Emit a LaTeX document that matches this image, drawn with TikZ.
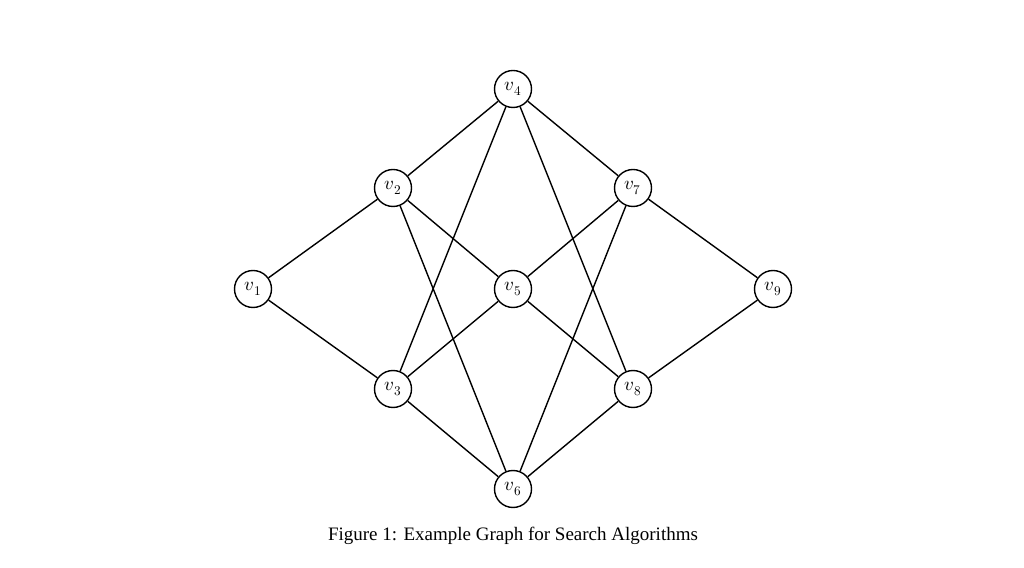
\documentclass[tikz,border=0pt]{standalone}
\usepackage{fontspec}
\setmainfont{Liberation Serif}
\usepackage{unicode-math}
\setmathfont{Latin Modern Math}
\begin{document}
\begin{tikzpicture}[x=1pt,y=1pt,
  vert/.style={circle,draw,line width=1.4pt,minimum size=37pt,inner sep=0pt,fill=white,font=\fontsize{19}{22}\selectfont},
  edge/.style={line width=1.4pt}]
\useasboundingbox (0,0) rectangle (1024,567);
\node[vert] (v1) at (253,278) {$v_1$};
\node[vert] (v2) at (393,379) {$v_2$};
\node[vert] (v3) at (393,178) {$v_3$};
\node[vert] (v4) at (513,478) {$v_4$};
\node[vert] (v5) at (513,278) {$v_5$};
\node[vert] (v6) at (513,78) {$v_6$};
\node[vert] (v7) at (633,379) {$v_7$};
\node[vert] (v8) at (633,178) {$v_8$};
\node[vert] (v9) at (773,278) {$v_9$};
\foreach \a/\b in {v1/v2,v1/v3,v2/v4,v2/v5,v2/v6,v3/v4,v3/v5,v3/v6,v4/v7,v4/v8,v5/v7,v5/v8,v6/v7,v6/v8,v7/v9,v8/v9}
  \draw[edge] (\a) -- (\b);
\node[font=\fontsize{19}{22}\selectfont] (cap) at (513,31) {Figure 1: Example Graph for Search Algorithms};
\end{tikzpicture}
\end{document}
